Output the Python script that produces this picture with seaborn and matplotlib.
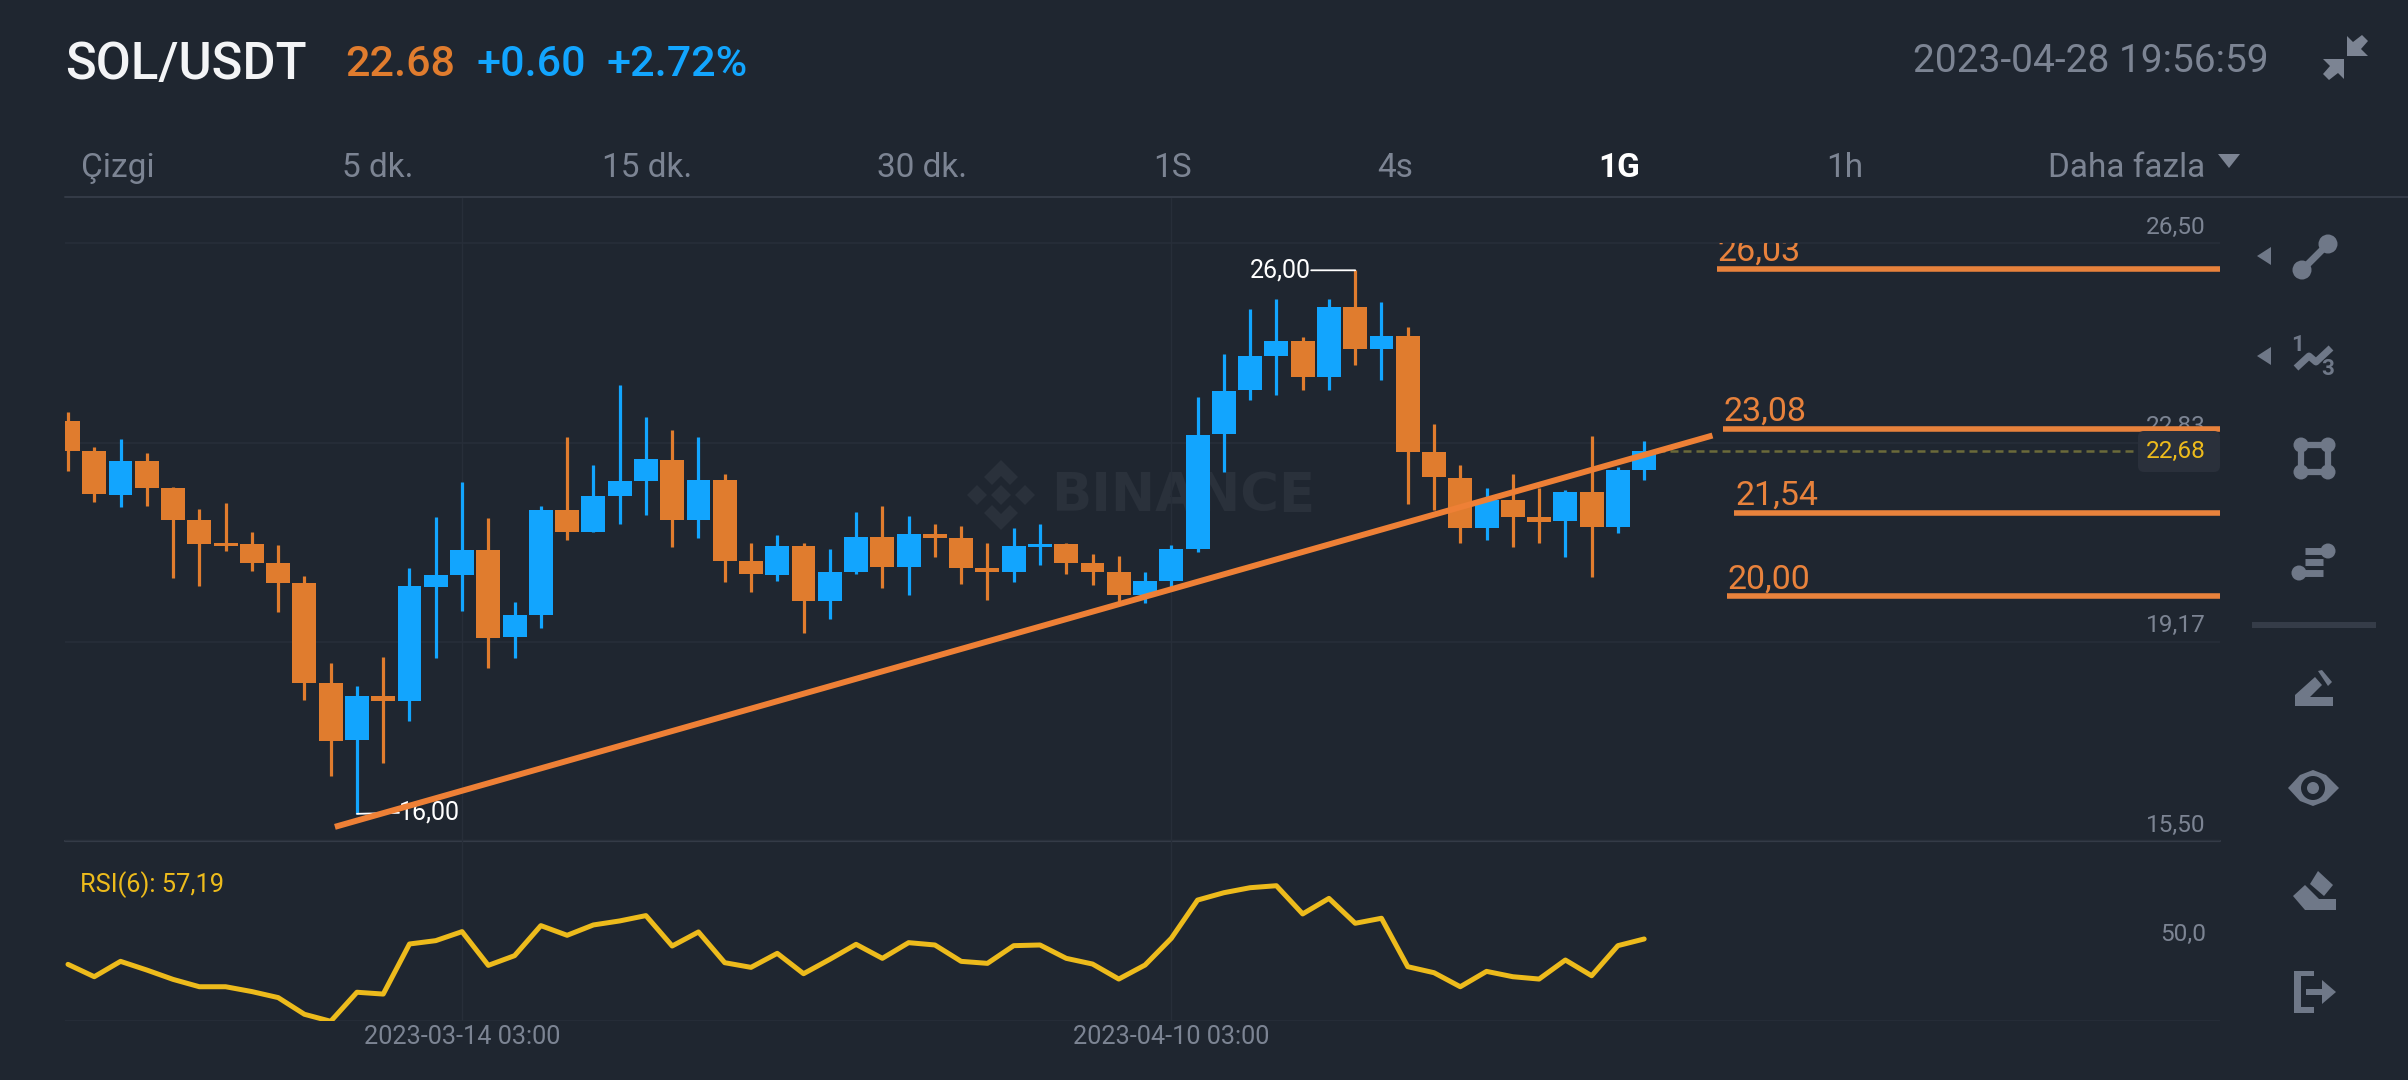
import matplotlib
matplotlib.use("Agg")
import matplotlib.pyplot as plt
from matplotlib.patches import Polygon, Circle, Rectangle, FancyBboxPatch
from matplotlib.transforms import IdentityTransform
import numpy as np
import pandas as pd
import seaborn as sns

BG = "#1F2630"
ORANGE = "#E07C2E"
LEVEL = "#E8823C"
BLUE = "#12A5FE"
YELLOW = "#EDBB1C"
GREY = "#7C8493"
ICON = "#6F7888"
GRID = "#272E39"
RULE = "#343B47"

highs = [23.40,22.74,22.90,22.64,22.01,21.61,21.72,21.18,20.94,20.38,18.78,18.36,18.89,20.52,21.46,22.11,21.45,19.90,21.67,22.93,
         22.42,23.89,23.31,23.07,22.94,22.26,20.98,21.13,20.98,20.87,21.55,21.66,21.48,21.33,21.29,20.99,21.25,21.33,20.98,20.78,
         20.74,20.44,20.95,23.66,24.46,25.28,25.47,24.78,25.47,26.00,25.42,24.96,23.17,22.41,21.99,22.25,21.99,21.96,22.96,22.39,22.86]
body_tops = [23.23,22.67,22.50,22.49,21.99,21.41,20.98,20.97,20.61,20.25,18.41,18.17,18.17,20.19,20.39,20.85,20.85,19.66,21.59,21.59,
             21.85,22.12,22.52,22.51,22.15,22.15,20.65,20.93,20.93,20.44,21.09,21.09,21.15,21.15,21.07,20.52,20.92,20.96,20.96,20.61,
             20.44,20.28,20.88,22.97,23.78,24.42,24.69,24.70,25.32,25.32,24.80,24.80,22.65,22.18,21.77,21.78,21.46,21.92,21.93,22.32,22.67]
body_bottoms = [22.67,21.88,21.87,21.99,21.41,20.97,20.92,20.62,20.25,18.41,17.34,17.35,18.07,18.07,20.18,20.39,19.23,19.25,19.66,21.19,
                21.19,21.85,22.12,21.41,21.40,20.65,20.41,20.39,19.91,19.91,20.44,20.55,20.55,21.07,20.52,20.44,20.44,20.90,20.61,20.44,
                20.03,20.03,20.28,20.88,22.98,23.80,24.42,24.04,24.04,24.56,24.55,22.66,22.19,21.25,21.25,21.47,21.37,21.39,21.27,21.27,22.33]
lows = [22.31,21.74,21.64,21.66,20.33,20.19,20.83,20.46,19.71,18.09,16.70,16.00,16.94,17.71,18.87,19.74,18.69,18.87,19.41,21.04,
        21.19,21.34,21.50,20.91,21.07,20.26,20.09,20.28,19.33,19.59,20.42,20.15,20.03,20.73,20.23,19.93,20.27,20.57,20.42,20.21,
        19.90,19.87,20.15,20.82,22.28,23.61,23.70,23.80,23.79,24.25,23.98,21.70,21.59,20.99,21.04,20.90,20.99,20.72,20.35,21.16,22.14]
rising = [0,0,1,0,0,0,0,0,0,0,0,1,0,1,1,1,0,1,1,0,
          1,1,1,0,1,0,0,1,0,1,1,0,1,0,0,0,1,1,0,0,
          0,1,1,1,1,1,1,0,1,0,1,0,0,0,1,0,0,1,0,1,1]
rsi = [42.0,34.6,43.8,38.6,33.0,28.6,28.6,25.7,22.1,12.1,7.9,25.3,24.2,54.2,56.2,61.6,41.4,47.2,65.2,59.4,
       65.6,68.0,71.2,53.0,61.4,43.0,40.2,48.6,36.4,45.0,54.0,45.6,55.0,53.6,43.8,42.6,53.2,53.6,45.6,42.2,
       33.2,41.6,57.6,80.5,84.9,87.9,89.1,72.2,81.5,66.6,69.6,40.6,37.0,28.6,37.8,34.6,33.2,44.6,35.2,53.2,57.2]

price_ticks = [26.50, 22.83, 19.17, 15.50]
price_tick_labels = ["26,50", "22,83", "19,17", "15,50"]
levels = [26.03, 23.08, 21.54, 20.00]
level_labels = ["26,03", "23,08", "21,54", "20,00"]
level_starts = [62.77, 63.0, 63.42, 63.15]
trend_n = [10.16, 62.6]
trend_price = [15.76, 22.96]
last_price = 22.68
date_ticks = [15, 42]
date_labels = ["2023-03-14 03:00", "2023-04-10 03:00"]
tabs = ["Çizgi", "5 dk.", "15 dk.", "30 dk.", "1S", "4s", "1G", "1h", "Daha fazla"]

W, H = 2408, 1080
sns.set_style("dark")
plt.rcParams["font.family"] = ["Roboto", "DejaVu Sans"]
fig = plt.figure(figsize=(W / 100, H / 100), dpi=100, facecolor=BG)

def frame(x0, y0, x1, y1):
    return [x0 / W, 1 - y1 / H, (x1 - x0) / W, (y1 - y0) / H]

ui = fig.add_axes([0, 0, 1, 1], zorder=1)
ui.set_xlim(0, W); ui.set_ylim(H, 0); ui.axis("off")

ax = fig.add_axes(frame(65, 198, 2220, 841), zorder=2)
rs = fig.add_axes(frame(65, 841, 2220, 1021), zorder=2)

XLIM = (-0.114, 81.92)
for a in (ax, rs):
    a.patch.set_visible(False)
    a.set_xlim(*XLIM)
    for s in a.spines.values():
        s.set_visible(False)
    a.set_xticks(date_ticks)
    a.grid(True, axis="x", color=GRID, lw=1.0)
    a.grid(True, axis="y", color=GRID, lw=1.2)
    a.set_axisbelow(True)
    a.tick_params(length=0)
ax.set_ylim(15.5, 27.33)
ax.set_yticks(price_ticks)
ax.set_yticklabels([]); ax.set_xticklabels([])

# candles
df = pd.DataFrame(dict(n=range(len(highs)), high=highs, top=body_tops, bottom=body_bottoms, low=lows, up=rising))
df["color"] = np.where(df.up == 1, BLUE, ORANGE)
ax.vlines(df.n, df.low, df.high, colors=df.color, lw=2.3, zorder=3)
ax.bar(df.n, df.top - df.bottom, bottom=df.bottom, width=0.91, color=df.color, linewidth=0, zorder=4)

# high / low markers
ax.annotate("26,00", xy=(49, 26.00), xytext=(-44, 0), textcoords="offset pixels", ha="right", va="center",
            color="white", fontsize=18, zorder=5,
            arrowprops=dict(arrowstyle="-", color="white", lw=1.3, shrinkA=0, shrinkB=0, patchA=None, relpos=(1, 0.5)))
ax.annotate("16,00", xy=(11, 16.00), xytext=(42, 1), textcoords="offset pixels", ha="left", va="center",
            color="white", fontsize=18, zorder=5,
            arrowprops=dict(arrowstyle="-", color="white", lw=1.3, shrinkA=0, shrinkB=0, patchA=None, relpos=(0, 0.5)))

# drawn levels and trend line
for lv, lab, st in zip(levels, level_labels, level_starts):
    ax.hlines(lv, st, XLIM[1], color=LEVEL, lw=4.0, zorder=6)
    t = ax.annotate(lab, xy=(st, lv), xytext=(1, 1), textcoords="offset pixels", ha="left", va="bottom",
                    color=LEVEL, fontsize=24.5, zorder=6)
    t.set_clip_on(True)
    t.set_clip_path(Rectangle((0, 0), W, H - 243, transform=IdentityTransform()))
ax.plot(trend_n, trend_price, color="#EE8036", lw=4.3, solid_capstyle="butt", zorder=7)

# last price
ax.hlines(last_price, 60.5, 78.7, color="#6B6A3A", lw=1.8, linestyles=(0, (3.2, 2.0)), zorder=2)

# price tick labels
for p, lab in zip(price_ticks, price_tick_labels):
    ax.annotate(lab, xy=(1, p), xycoords=ax.get_yaxis_transform(), xytext=(-14, 16), textcoords="offset pixels",
                ha="right", va="center", color=GREY, fontsize=17.6, zorder=3, annotation_clip=False)
ax.add_patch(FancyBboxPatch((2142, 435), 74, 33, boxstyle="round,pad=4,rounding_size=6", transform=ui.transData,
                            facecolor="#2A303B", edgecolor="none", zorder=8))
ax.annotate("22,68", xy=(1, last_price), xycoords=ax.get_yaxis_transform(), xytext=(-14, -1), textcoords="offset pixels",
            ha="right", va="center", color=YELLOW, fontsize=17.6, zorder=9)

# RSI panel
rsi_df = pd.DataFrame(dict(n=range(len(rsi)), rsi=rsi))
sns.lineplot(data=rsi_df, x="n", y="rsi", ax=rs, color=YELLOW, linewidth=3.6, estimator=None, zorder=4)
rs.set_xlim(*XLIM)
rs.set_ylim(8.08, 115.87)
rs.set_yticks([8.08])
rs.set_yticklabels([])
rs.set_xlabel(""); rs.set_ylabel("")
rs.set_xticklabels(date_labels, color=GREY, fontsize=18.2)
rs.tick_params(axis="x", pad=3)
rs.annotate("50,0", xy=(1, 50), xycoords=rs.get_yaxis_transform(), xytext=(-14, 17), textcoords="offset pixels",
            ha="right", va="center", color=GREY, fontsize=17.6)
rs.text(80, 885, "RSI(6): 57,19", transform=ui.transData, color=YELLOW, fontsize=18.3, va="center", ha="left")

# panel rules
ui.plot([65, 2220], [841, 841], color=RULE, lw=1.6)
ui.plot([65, W], [197, 197], color=RULE, lw=1.4)

# header
ui.text(65, 65, "SOL/USDT", color="#F3F4F6", fontsize=36.6, fontweight="medium", va="center")
ui.text(345, 64, "22.68", color=ORANGE, fontsize=31, fontweight="medium", va="center")
ui.text(476, 64, "+0.60", color=BLUE, fontsize=31, fontweight="medium", va="center")
ui.text(607, 64, "+2.72%", color=BLUE, fontsize=31, fontweight="medium", va="center")
ui.text(2269, 62, "2023-04-28 19:56:59", color=GREY, fontsize=28, ha="right", va="center")

tab_x = [118, 378, 647, 922, 1172, 1395, 1619, 1845, 2127]
for x, t in zip(tab_x, tabs):
    active = t == "1G"
    ui.text(x, 168, t, color="white" if active else GREY, fontsize=24, ha="center", va="center",
            fontweight="bold" if active else "normal")
ui.add_patch(Polygon([(2218, 154), (2240, 154), (2229, 168)], color=GREY, lw=0))

# watermark
WM = "#2A313B"
ui.text(1051, 496, "BINANCE", color=WM, fontsize=38, fontweight="bold", family="DejaVu Sans", va="center", ha="left")
cx, cy = 1001, 495
ui.add_patch(Polygon([(cx, cy - 35), (cx + 17, cy - 18), (cx + 9, cy - 10), (cx, cy - 19), (cx - 9, cy - 10), (cx - 17, cy - 18)], color=WM, lw=0))
ui.add_patch(Polygon([(cx, cy + 35), (cx + 17, cy + 18), (cx + 9, cy + 10), (cx, cy + 19), (cx - 9, cy + 10), (cx - 17, cy + 18)], color=WM, lw=0))
ui.add_patch(Polygon([(cx, cy - 10), (cx + 10, cy), (cx, cy + 10), (cx - 10, cy)], color=WM, lw=0))
ui.add_patch(Polygon([(cx - 34, cy), (cx - 24, cy - 10), (cx - 14, cy), (cx - 24, cy + 10)], color=WM, lw=0))
ui.add_patch(Polygon([(cx + 34, cy), (cx + 24, cy - 10), (cx + 14, cy), (cx + 24, cy + 10)], color=WM, lw=0))

# top-right compress icon
ui.add_patch(Polygon([(2347, 56), (2347, 36), (2353, 42), (2362, 35), (2368, 41), (2361, 49), (2368, 56)], color=GREY, lw=0))
ui.add_patch(Polygon([(2344, 59), (2344, 79), (2338, 73), (2329, 80), (2323, 74), (2330, 66), (2323, 59)], color=GREY, lw=0))

# tool icons
def P(pts):
    ui.add_patch(Polygon(pts, color=ICON, lw=0))
def C(x, y, r):
    ui.add_patch(Circle((x, y), r, color=ICON, lw=0))
def L(xs, ys, w):
    ui.plot(xs, ys, color=ICON, lw=w, solid_capstyle="butt")

P([(2257, 256), (2271, 247), (2271, 265)])
P([(2257, 356), (2271, 347), (2271, 365)])
C(2328, 244, 9.5); C(2302, 270, 9.5); L([2302, 2328], [270, 244], 5)
ui.text(2298, 345, "1", color=ICON, fontsize=16, fontweight="bold", ha="center", va="center")
ui.text(2328, 369, "3", color=ICON, fontsize=16, fontweight="bold", ha="center", va="center")
L([2296, 2309, 2316, 2331], [368, 356, 362, 348], 5)
for x in (2301, 2328):
    for y in (445, 472):
        C(x, y, 7.5)
L([2301, 2328], [445, 445], 4.5); L([2301, 2328], [472, 472], 4.5); L([2301, 2301], [445, 472], 4.5); L([2328, 2328], [445, 472], 4.5)
C(2328, 551, 7.5); C(2299, 573, 7.5)
L([2305, 2328], [551, 551], 5); L([2305, 2323], [562, 562], 5); L([2299, 2323], [573, 573], 5)
ui.add_patch(Rectangle((2252, 622), 124, 6, color="#353C48", lw=0))
P([(2295, 706), (2295, 695), (2315, 677), (2322, 685), (2310, 697), (2333, 697), (2333, 706)])
P([(2318, 671), (2322, 670), (2332, 682), (2328, 686)])
xs = np.array([2288, 2300, 2313, 2326, 2339, 2326, 2313, 2300])
ys = np.array([788, 775, 770, 775, 788, 801, 806, 801])
P(list(zip(xs, ys)))
ui.add_patch(Circle((2313, 788), 12, color=BG, lw=0)); C(2313, 788, 6)
P([(2318, 871), (2333, 885), (2324, 896), (2310, 884)])
P([(2293, 896), (2305, 885), (2319, 899), (2336, 899), (2336, 910), (2305, 910)])
P([(2294, 971), (2314, 971), (2314, 976), (2301, 976), (2301, 1007), (2314, 1007), (2314, 1013), (2294, 1013)])
P([(2306, 989), (2322, 989), (2322, 980), (2336, 992), (2322, 1004), (2322, 995), (2306, 995)])

fig.savefig("out.png", dpi=100, facecolor=BG)
